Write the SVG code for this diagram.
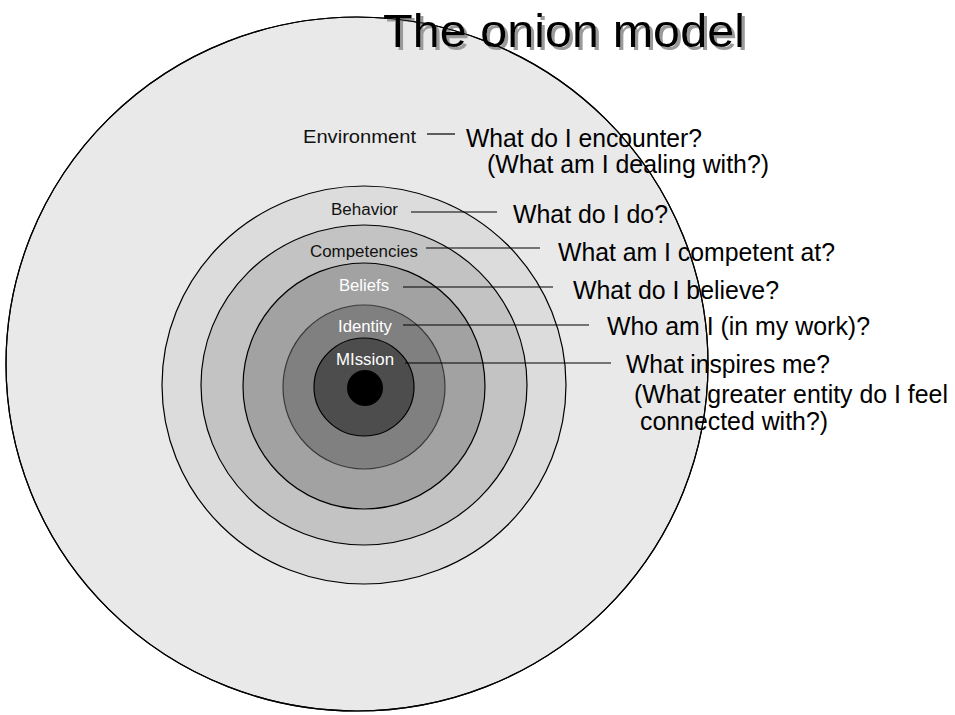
<svg xmlns="http://www.w3.org/2000/svg" width="955" height="715" viewBox="0 0 955 715">
<defs>
<filter id="shadow" x="-5%" y="-20%" width="110%" height="150%">
<feOffset in="SourceAlpha" dx="2.5" dy="2.5" result="off"/>
<feFlood flood-color="#9a9a9a"/>
<feComposite operator="in" in2="off" result="sh"/>
<feMerge><feMergeNode in="sh"/><feMergeNode in="SourceGraphic"/></feMerge>
</filter>
</defs>
<style>
.ring{stroke:#000;stroke-width:1.2}
.lbl{font-family:"Liberation Sans",Arial,sans-serif;font-size:16px}
.dark{fill:#111}
.light{fill:#fff}
.q{font-family:"Liberation Sans",Arial,sans-serif;font-size:25px;fill:#000}
.conn line{stroke:#000;stroke-width:1.2}
.title{font-family:"Liberation Sans",Arial,sans-serif;font-size:46px;fill:#000}
</style>
<rect width="955" height="715" fill="#fff"/>
<g id="environment">
<ellipse class="ring" cx="357" cy="364" rx="351" ry="347" fill="#e9e9e9"/>
</g>
<g id="behavior">
<ellipse class="ring" cx="364" cy="385" rx="202" ry="199" fill="#dcdcdc"/>
</g>
<g id="competencies">
<ellipse class="ring" cx="364" cy="385" rx="163" ry="160" fill="#c3c3c3"/>
</g>
<g id="beliefs">
<ellipse class="ring" cx="364" cy="386" rx="121" ry="123" fill="#a2a2a2"/>
</g>
<g id="identity">
<ellipse cx="364" cy="387" rx="81" ry="82" fill="#808080" stroke="#3a3a3a" stroke-width="1.2"/>
</g>
<g id="mission">
<ellipse class="ring" cx="364" cy="387" rx="50" ry="49" fill="#4d4d4d"/>
<circle cx="365" cy="388" r="18" fill="#000"/>
</g>
<g id="title" filter="url(#shadow)">
<text class="title" x="383" y="47" textLength="362" lengthAdjust="spacingAndGlyphs">The onion model</text>
</g>
<g id="labels">
<text class="lbl dark" x="303" y="143" style="font-size:18px" textLength="113" lengthAdjust="spacingAndGlyphs">Environment</text>
<text class="lbl dark" x="331" y="215" textLength="67" lengthAdjust="spacingAndGlyphs">Behavior</text>
<text class="lbl dark" x="310" y="257" textLength="108" lengthAdjust="spacingAndGlyphs">Competencies</text>
<text class="lbl light" x="339" y="291" textLength="50" lengthAdjust="spacingAndGlyphs">Beliefs</text>
<text class="lbl light" x="338" y="332" textLength="54" lengthAdjust="spacingAndGlyphs">Identity</text>
<text class="lbl light" x="336" y="365" textLength="58" lengthAdjust="spacingAndGlyphs">MIssion</text>
</g>
<g id="connectors" class="conn">
<line x1="427" y1="134" x2="455" y2="134"/>
<line x1="411" y1="212" x2="497" y2="212"/>
<line x1="426" y1="248" x2="540" y2="248"/>
<line x1="403" y1="287" x2="553" y2="287"/>
<line x1="403" y1="325" x2="589" y2="325"/>
<line x1="405" y1="363" x2="611" y2="363"/>
</g>
<g id="questions">
<text class="q" x="466" y="147" textLength="236" lengthAdjust="spacingAndGlyphs">What do I encounter?</text>
<text class="q" x="487" y="173" textLength="282" lengthAdjust="spacingAndGlyphs">(What am I dealing with?)</text>
<text class="q" x="513" y="223" textLength="155" lengthAdjust="spacingAndGlyphs">What do I do?</text>
<text class="q" x="558" y="261" textLength="277" lengthAdjust="spacingAndGlyphs">What am I competent at?</text>
<text class="q" x="573" y="299" textLength="206" lengthAdjust="spacingAndGlyphs">What do I believe?</text>
<text class="q" x="607" y="335" textLength="263" lengthAdjust="spacingAndGlyphs">Who am I (in my work)?</text>
<text class="q" x="626" y="373" textLength="204" lengthAdjust="spacingAndGlyphs">What inspires me?</text>
<text class="q" x="634" y="403" textLength="314" lengthAdjust="spacingAndGlyphs">(What greater entity do I feel</text>
<text class="q" x="640" y="430" textLength="188" lengthAdjust="spacingAndGlyphs">connected with?)</text>
</g>
<g id="outer-edge">
<ellipse cx="357" cy="364" rx="351" ry="347" fill="none" stroke="#000" stroke-width="1.2"/>
</g>
</svg>
